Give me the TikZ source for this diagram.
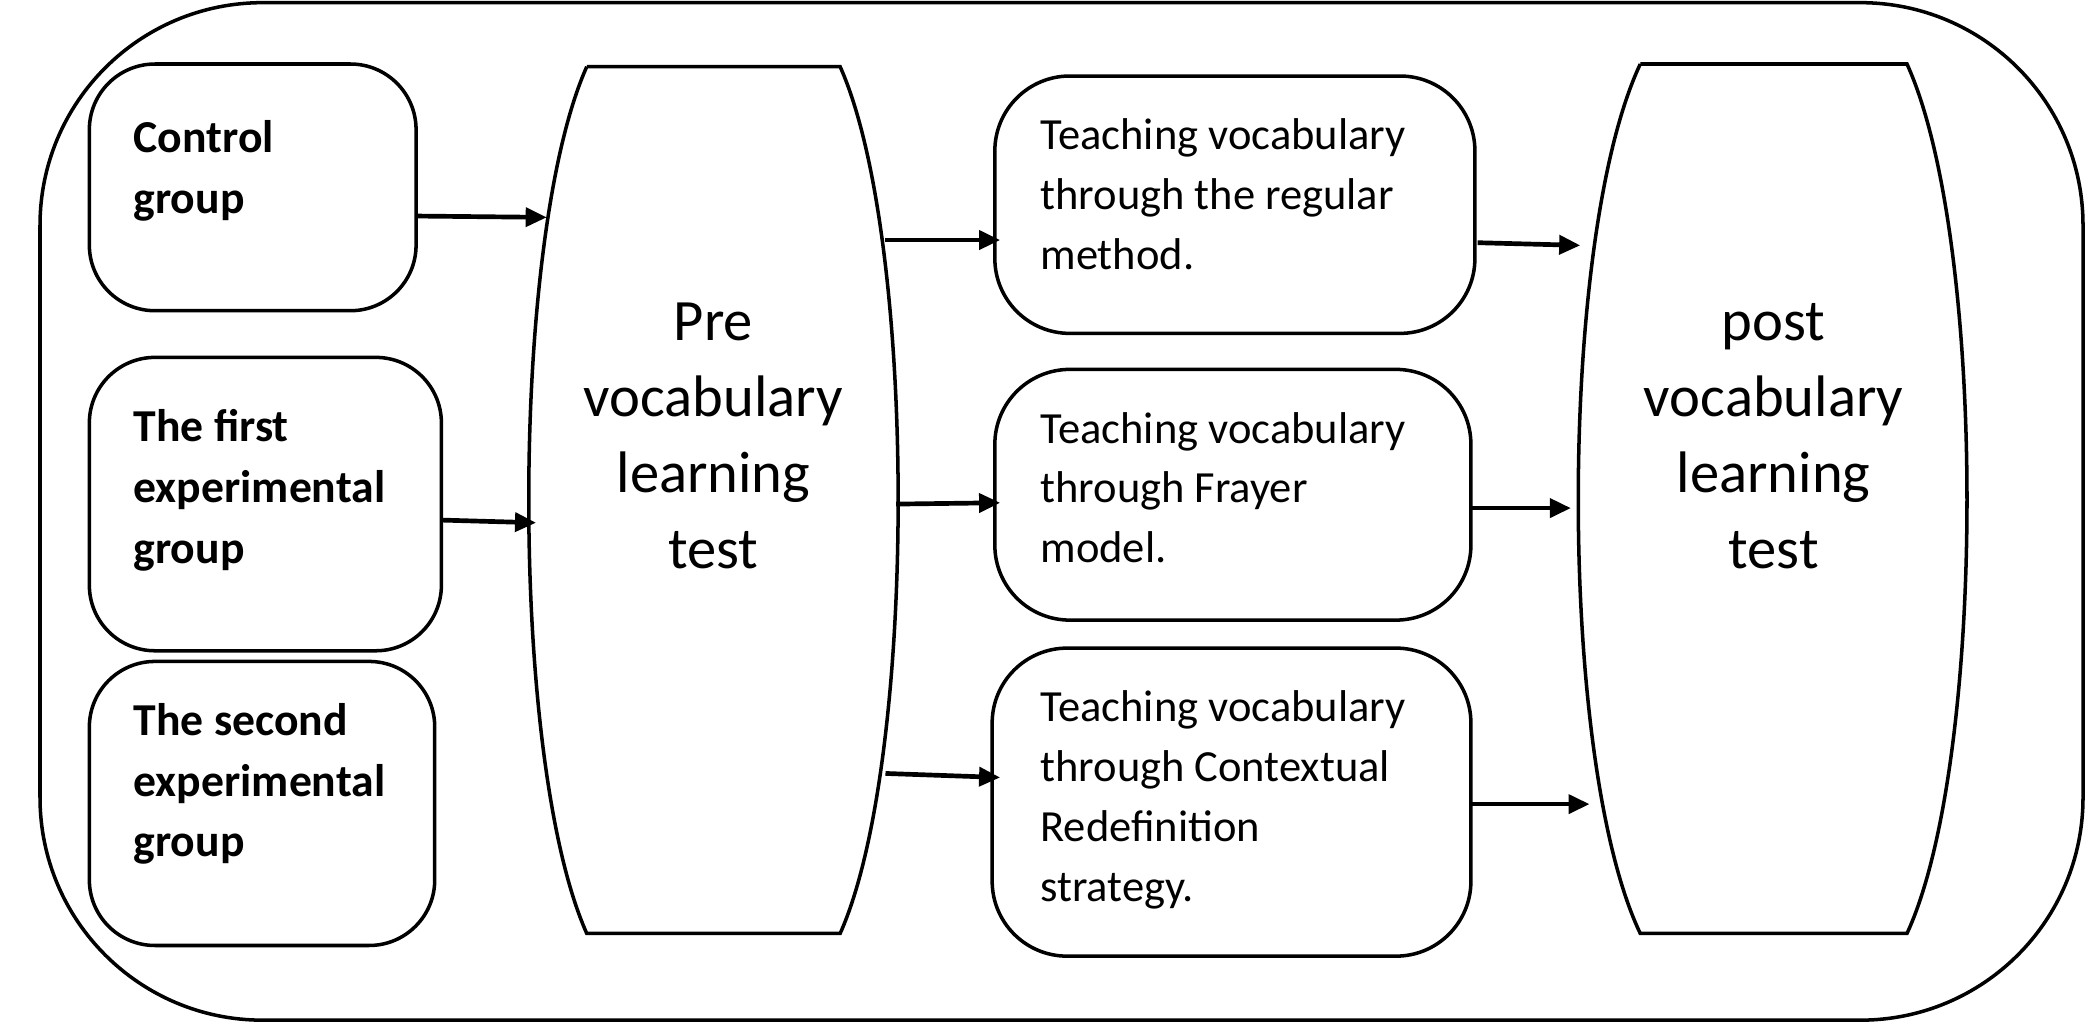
\documentclass[tikz,border=0pt]{standalone}
\usepackage{fontspec}
\setmainfont{Carlito}
\usetikzlibrary{arrows.meta}
\begin{document}
\begin{tikzpicture}[x=0.02cm,y=-0.02cm,
  box/.style={draw,line width=1.5pt,rounded corners=28},
  lab/.style={font=\fontsize{19.5}{26}\selectfont\bfseries,align=left,anchor=north west},
  txt/.style={font=\fontsize{19}{25.5}\selectfont,align=left,anchor=north west},
  big/.style={font=\fontsize{25}{32.5}\selectfont,align=center},
  arr/.style={-{Triangle[length=9pt,width=8pt]},line width=2pt}]
\useasboundingbox (0,0) rectangle (1568,770);
\draw[line width=1.5pt,rounded corners=95] (30,2) rectangle (1562,765);
% left boxes
\draw[box] (67,48) rectangle (312,233);
\draw[box] (67,268) rectangle (331,488);
\draw[box] (67,496) rectangle (326,709);
\node[lab] (c) at (94,84) {Control\\group};
\node[lab] (f) at (94,301) {The first\\experimental\\group};
\node[lab] (s) at (94,521) {The second\\experimental\\group};
% pre barrel
\draw[line width=1.5pt] (440,50) -- (630,50) .. controls (688,180) and (688,570) .. (630,700) -- (440,700) .. controls (382,570) and (382,180) .. (440,50);
\node[big] (pre) at (535,327) {Pre\\vocabulary\\learning\\test};
% teaching boxes
\draw[box,rounded corners=32] (746,57) rectangle (1106,250);
\draw[box,rounded corners=32] (746,277) rectangle (1103,465);
\draw[box,rounded corners=32] (744,486) rectangle (1103,717);
\node[txt] (t1) at (774,83) {Teaching vocabulary\\through the regular\\method.};
\node[txt] (t2) at (774,303) {Teaching vocabulary\\through Frayer\\model.};
\node[txt] (t3) at (774,512) {Teaching vocabulary\\through Contextual\\Redefinition\\strategy.};
% post barrel
\draw[line width=1.5pt] (1230,48) -- (1430,48) .. controls (1490,180) and (1490,570) .. (1430,700) -- (1230,700) .. controls (1168,570) and (1168,180) .. (1230,48);
\node[big] (post) at (1330,327) {post\\vocabulary\\learning\\test};
% arrows
\coordinate (a1) at (312,162); \coordinate (b1) at (410,163);
\coordinate (a2) at (331,390); \coordinate (b2) at (402,392);
\coordinate (a3) at (664,180); \coordinate (b3) at (750,180);
\coordinate (a4) at (672,378); \coordinate (b4) at (750,377);
\coordinate (a5) at (664,580); \coordinate (b5) at (750,583);
\coordinate (a6) at (1108,182); \coordinate (b6) at (1185,184);
\coordinate (a7) at (1103,381); \coordinate (b7) at (1178,381);
\coordinate (a8) at (1103,603); \coordinate (b8) at (1192,603);
\foreach \i in {1,...,8} \draw[arr] (a\i) -- (b\i);
\end{tikzpicture}
\end{document}
